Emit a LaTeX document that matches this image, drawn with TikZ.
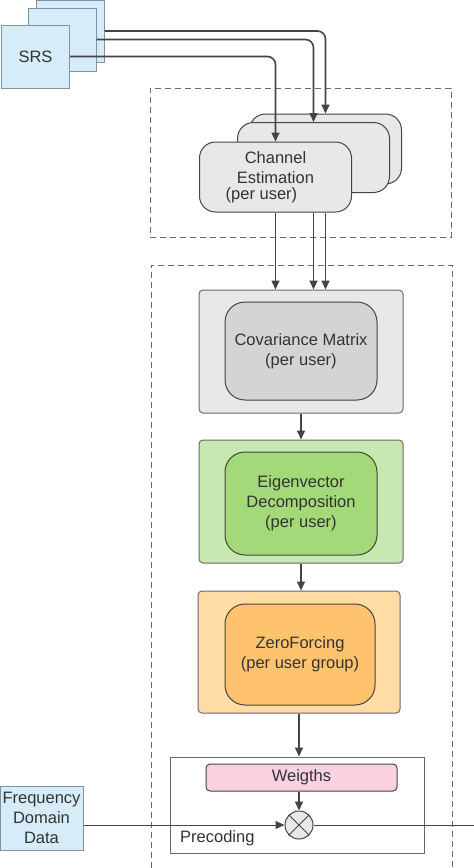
\documentclass[tikz,border=0pt]{standalone}
\usepackage{fontspec}
\setmainfont{Liberation Sans}
\usepackage{xcolor}
\usepackage{tikz}
\usetikzlibrary{arrows.meta}

\definecolor{txtgray}{HTML}{333333}
\definecolor{linegray}{HTML}{444444}
\definecolor{srsfill}{HTML}{D6ECF8}
\definecolor{srsline}{HTML}{7F93A3}
\definecolor{chfill}{HTML}{E8E8E8}
\definecolor{covin}{HTML}{D4D4D4}
\definecolor{eigout}{HTML}{C7E8B1}
\definecolor{eigin}{HTML}{A3D978}
\definecolor{zfout}{HTML}{FFDBA6}
\definecolor{zfin}{HTML}{FFC36D}
\definecolor{wgtfill}{HTML}{F9D1E1}

\begin{document}
\begin{tikzpicture}[x=1pt,y=-1pt,
    every node/.style={font=\fontsize{16.5}{20}\selectfont, text=txtgray, inner sep=0pt},
    srs/.style={rectangle, draw=srsline, fill=srsfill, line width=1pt, minimum width=68pt, minimum height=63pt},
    chest/.style={rectangle, rounded corners=16pt, draw=linegray, fill=chfill, line width=1pt, minimum width=152pt, minimum height=70pt},
    outer/.style={rectangle, rounded corners=4pt, draw=linegray!80, line width=1pt, minimum width=204pt, minimum height=123pt},
    inner/.style={rectangle, rounded corners=20pt, draw=linegray, line width=1pt, minimum width=152pt, align=center},
    group/.style={rectangle, draw=linegray!80, dash pattern=on 6pt off 4pt, line width=1pt},
    arr/.style={-{Triangle[length=9pt,width=8pt]}, line width=1.6pt, draw=linegray}]
      \useasboundingbox (0,0) rectangle (474,868);
      % SRS stack
      \node[srs, minimum height=62pt] (srsC) at (70,31) {};
      \node[srs] (srsB) at (62,39.5) {};
      \node[srs] (srsA) at (35.5,56.5) {SRS};
      % channel estimation group
      \node[group, minimum width=301pt, minimum height=149pt] (grpCh) at (300.5,162.5) {};
      \node[chest] (chC) at (325.5,149) {};
      \node[chest] (chB) at (313.5,157.5) {};
      \node[chest, align=center] (chA) at (275.5,177) {Channel\\Estimation\\[-4pt]\hspace*{-28pt}(per user)};
      \draw[arr, rounded corners=8pt] (srsC.east) -| (chC.north);
      \draw[arr, rounded corners=8pt] (srsB.east) -| (chB.north);
      \draw[arr, rounded corners=8pt] (srsA.east) -| (chA.north);
      % weight computation group
      \draw[group] (151,868) -- (151,265) -- (452,265) -- (452,868);
      \node[outer, fill=chfill] (cov) at (301,351.5) {};
      \node[inner, fill=covin, minimum height=98pt] (covIn) at (301,351) {Covariance Matrix\\(per user)};
      \node[outer, fill=eigout] (eig) at (301,501.5) {};
      \node[inner, fill=eigin, minimum height=103pt] (eigIn) at (301,503.5) {Eigenvector\\Decomposition\\(per user)};
      \node[outer, fill=zfout, minimum width=202pt, minimum height=122pt] (zf) at (299,652) {};
      \node[inner, fill=zfin, minimum width=150pt, minimum height=101pt] (zfIn) at (300,654.5) {ZeroForcing\\(per user group)};
      \draw[arr] (chA.south) -- (chA.south |- cov.north);
      \draw[arr] (chA.south -| chB) -- (chB |- cov.north);
      \draw[arr] (chA.south -| chC) -- (chC |- cov.north);
      \draw[arr] (cov.south) -- (eig.north);
      \draw[arr] (eig.south) -- (eig.south |- zf.north);
      % precoding
      \node[rectangle, draw=linegray!80, fill=white, line width=1pt, minimum width=254pt, minimum height=96pt] (prec) at (297,805) {};
      \node[anchor=west] (precLbl) at (180,838) {Precoding};
      \node[rectangle, rounded corners=4pt, draw=linegray, fill=wgtfill, line width=1pt, minimum width=191pt, minimum height=27pt] (wgt) at (301.5,777.5) {Weigths};
      \node[circle, draw=linegray, fill=chfill, line width=1pt, minimum size=28pt] (mul) at (299,825) {};
      \draw[linegray, line width=1pt] (mul.north east) -- (mul.south west) (mul.north west) -- (mul.south east);
      \node[rectangle, draw=srsline, fill=srsfill, line width=1pt, minimum width=83pt, minimum height=64pt, align=center] (fdd) at (41.5,818) {Frequency\\Domain\\Data};
      \coordinate (out) at (474,825);
      \draw[arr] (zf.south) -- (zf.south |- prec.north);
      \draw[arr] (wgt.south -| mul) -- (mul.north);
      \draw[arr, line width=1pt] (fdd.east |- mul) -- (mul.west);
      \draw[linegray, line width=1pt] (mul.east) -- (out);
    \end{tikzpicture}
\end{document}
